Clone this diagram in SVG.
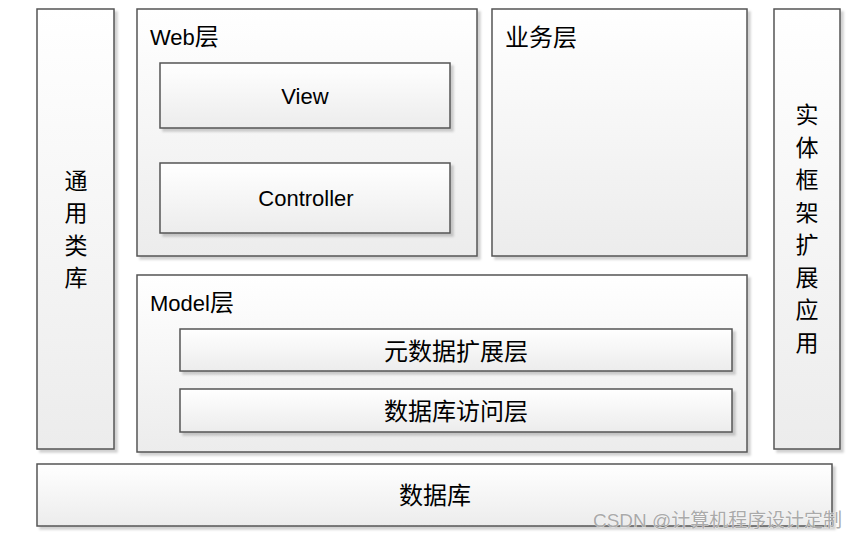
<svg xmlns="http://www.w3.org/2000/svg" width="859" height="539" viewBox="0 0 859 539">
<style>
.box{fill:url(#g);stroke:#555;stroke-width:1.5}
.t{font-family:"Liberation Sans","Noto Sans CJK SC",sans-serif;font-size:22px;fill:#000}
.z{font-size:24px}
.v{font-size:23px}
.c{text-anchor:middle;dominant-baseline:central}
.wm{font-family:"Liberation Sans","Noto Sans CJK SC",sans-serif;font-size:19px;fill:#aaa;stroke:#fff;stroke-width:0.6;paint-order:stroke}
</style>
<defs>
<linearGradient id="g" x1="0" y1="0" x2="0" y2="1">
<stop offset="0" stop-color="#ffffff"/>
<stop offset="1" stop-color="#ececec"/>
</linearGradient>
<filter id="sh" x="-10%" y="-10%" width="130%" height="130%">
<feDropShadow dx="3" dy="3" stdDeviation="1.2" flood-color="#000" flood-opacity="0.18"/>
</filter>
</defs>
<rect width="859" height="539" fill="#fff"/>
<g id="common-lib">
<rect class="box" filter="url(#sh)" x="37" y="9" width="77" height="440"/>
<text class="t v c" x="76" y="181">通</text>
<text class="t v c" x="76" y="213">用</text>
<text class="t v c" x="76" y="246">类</text>
<text class="t v c" x="76" y="278">库</text>
</g>
<g id="web-layer">
<rect class="box" filter="url(#sh)" x="137" y="9" width="340" height="247"/>
<text class="t" x="150" y="45">Web<tspan class="z">层</tspan></text>
</g>
<g id="view">
<rect class="box" filter="url(#sh)" x="160" y="63" width="290" height="65"/>
<text class="t c" x="305" y="96">View</text>
</g>
<g id="controller">
<rect class="box" filter="url(#sh)" x="160" y="163" width="290" height="70"/>
<text class="t c" x="306" y="198">Controller</text>
</g>
<g id="business-layer">
<rect class="box" filter="url(#sh)" x="492" y="9" width="255" height="247"/>
<text class="t z" x="505" y="46">业务层</text>
</g>
<g id="entity-framework-ext">
<rect class="box" filter="url(#sh)" x="774" y="9" width="66" height="440"/>
<text class="t v c" x="807" y="115">实</text>
<text class="t v c" x="807" y="148">体</text>
<text class="t v c" x="807" y="180">框</text>
<text class="t v c" x="807" y="213">架</text>
<text class="t v c" x="807" y="245">扩</text>
<text class="t v c" x="807" y="278">展</text>
<text class="t v c" x="807" y="310">应</text>
<text class="t v c" x="807" y="343">用</text>
</g>
<g id="model-layer">
<rect class="box" filter="url(#sh)" x="137" y="275" width="610" height="177"/>
<text class="t" x="150" y="311">Model<tspan class="z">层</tspan></text>
</g>
<g id="metadata-ext">
<rect class="box" filter="url(#sh)" x="180" y="329" width="552" height="42"/>
<text class="t z c" x="456" y="351">元数据扩展层</text>
</g>
<g id="db-access">
<rect class="box" filter="url(#sh)" x="180" y="389" width="552" height="43"/>
<text class="t z c" x="456" y="411">数据库访问层</text>
</g>
<g id="database">
<rect class="box" filter="url(#sh)" x="37" y="464" width="795" height="62"/>
<text class="t z c" x="435" y="495">数据库</text>
</g>
<g id="connectors"></g>
<text class="wm" x="593" y="527" textLength="249" lengthAdjust="spacingAndGlyphs">CSDN @计算机程序设计定制</text>
</svg>
